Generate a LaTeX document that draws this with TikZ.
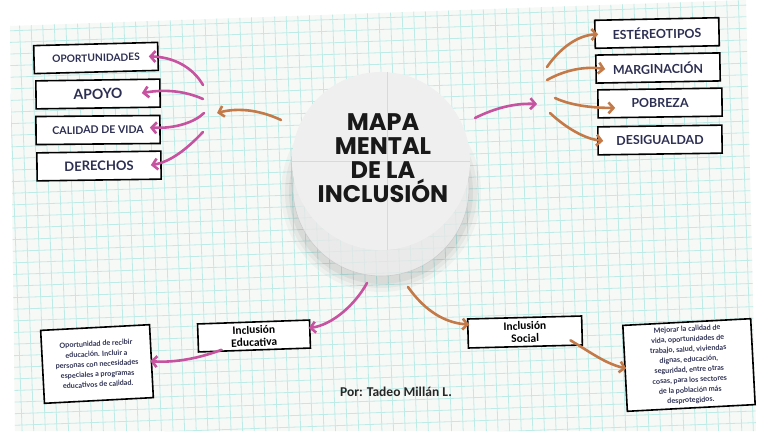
\documentclass[tikz,border=0pt]{standalone}
\usepackage{fontspec}
\usetikzlibrary{arrows.meta,calc}
\newfontfamily\titlefont{Poppins}
\newfontfamily\labelfont{Lato}
\newfontfamily\handfont{Carlito}
\definecolor{paper}{HTML}{F7F9F7}
\definecolor{gridc}{HTML}{BDEBE6}
\definecolor{navy}{HTML}{2C2F52}
\definecolor{mag}{RGB}{198,82,160}
\definecolor{ora}{RGB}{196,122,72}
\definecolor{disc}{HTML}{EFEFEF}
\tikzset{
  box/.style={draw=black, line width=1.6pt, fill=white, minimum width=124pt, minimum height=28pt, inner sep=0pt, text=navy},
  lbl/.style={font=\labelfont\bfseries\fontsize{#1}{#1}\selectfont},
  hand/.style={draw=black, line width=1.6pt, fill=white, inner sep=0pt, align=center, font=\handfont\bfseries\fontsize{11.5}{12.5}\selectfont, text=black},
  para/.style={draw=black, line width=1.6pt, fill=white, inner sep=0pt, align=center, text=navy, font=\labelfont\bfseries\fontsize{7.2}{10.2}\selectfont},
  arr/.style={line width=2.6pt, line cap=round, -{Straight Barb[length=5pt,width=11pt]}},
}
\begin{document}
\begin{tikzpicture}[x=1pt,y=-1pt]
\useasboundingbox (0,0) rectangle (768,431);
\fill[white] (0,0) rectangle (768,431);
% paper
\fill[paper] (10,26) -- (746,0) -- (756,431) -- (15,431) -- cycle;
\begin{scope}
  \clip (10,26) -- (746,0) -- (756,431) -- (15,431) -- cycle;
  \begin{scope}[rotate around={2:(380,215)}]
    \foreach \i in {0,...,78} {
      \draw[gridc, line width=0.8pt] (-20+\i*11.6,-40) -- (-20+\i*11.6,480);
    }
    \foreach \j in {0,...,45} {
      \draw[gridc, line width=0.8pt] (-40,-40+\j*11.6) -- (820,-40+\j*11.6);
    }
  \end{scope}
\end{scope}
% central disc with shadow
\foreach \k/\o in {12/0.03,8/0.04,4/0.05} {
  \fill[black, opacity=\o] (381,192) circle (88+\k);
}
\fill[white!94!black, opacity=0.75] (381,188) circle (88);
\draw[gray!40, line width=0.6pt] (381,188) circle (88);
\node[circle, fill=disc, minimum size=178pt, inner sep=0pt] (c) at (381,161) {};
\draw[gray!30, line width=0.5pt] (c.north) ++(6,0) -- ($(c.south)+(6,0)$);
\draw[gray!30, line width=0.5pt] (c.west) -- (c.east);
\node[align=center, font=\titlefont\bfseries\fontsize{24}{24}\selectfont, text=black!90] (title) at (383,158) {MAPA\\MENTAL\\DE LA\\INCLUSIÓN};
% left boxes
\node[box, rotate=1.5, lbl=10.2] (opo) at (96,58) {OPORTUNIDADES};
\node[box, rotate=0.8, lbl=14] (apo) at (98,94) {APOYO};
\node[box, rotate=0.5, lbl=10.6] (cal) at (98,130) {CALIDAD DE VIDA};
\node[box, rotate=0.8, lbl=13] (der) at (99,166) {DERECHOS};
% right boxes
\node[box, rotate=1.2, lbl=12.4] (est) at (657,33) {ESTÉREOTIPOS};
\node[box, rotate=1.0, lbl=12.4] (mar) at (658,68) {MARGINACIÓN};
\node[box, rotate=0.8, lbl=12.4] (pob) at (660,103) {POBREZA};
\node[box, rotate=0.8, lbl=12.4] (des) at (660,140) {DESIGUALDAD};
% bottom boxes
\node[hand, rotate=2, minimum width=112pt, minimum height=28pt] (edu) at (254,336) {Inclusión\\Educativa};
\node[hand, rotate=1.5, minimum width=114pt, minimum height=29pt] (soc) at (525,332) {Inclusión\\Social};
\node[para, rotate=3, minimum width=109pt, minimum height=73pt] (edtxt) at (97,364) {Oportunidad de recibir\\educación. Incluir a\\personas con necesidades\\especiales a programas\\educativos de calidad.};
\node[para, rotate=3, minimum width=128pt, minimum height=86pt] (sotxt) at (689,365) {Mejorar la calidad de\\vida, oportunidades de\\trabajo, salud, viviendas\\dignas, educación,\\seguridad, entre otras\\cosas, para los sectores\\de la población más\\desprotegidos.};
\node[font=\handfont\bfseries\fontsize{13.5}{13.5}\selectfont, text=black!85] (author) at (396,392) {Por: Tadeo Millán L.};
% coordinates for free ends
\coordinate (lhub1) at (203,85);
\coordinate (lhub2) at (203,99);
\coordinate (lhub3) at (204,113);
\coordinate (lhub4) at (203,132);
\coordinate (lsrc) at (281,120);
\coordinate (ltgt) at (217,113);
\coordinate (rsrc) at (475,118);
\coordinate (rtgt) at (537,104);
\coordinate (rhub1) at (547,67);
\coordinate (rhub2) at (547,80);
\coordinate (rhub3) at (555,98);
\coordinate (rhub4) at (550,113);
\coordinate (bl) at (367,283);
\coordinate (br) at (408,287);
% arrows
\draw[arr, ora] (lsrc) .. controls (262,111) and (240,107) .. (ltgt);
\draw[arr, mag] (lhub1) .. controls (192,66) and (172,57) .. ([xshift=-10pt]opo.east);
\draw[arr, mag] (lhub2) .. controls (185,91) and (165,89) .. ([xshift=-19pt]apo.east);
\draw[arr, mag] (lhub3) .. controls (195,122) and (175,129) .. ([xshift=-11pt,yshift=2pt]cal.east);
\draw[arr, mag] (lhub4) .. controls (186,150) and (170,162) .. ([xshift=-11pt]der.east);
\draw[arr, mag] (rsrc) .. controls (495,108) and (515,103) .. (rtgt);
\draw[arr, ora] (rhub1) .. controls (560,48) and (578,35) .. ([xshift=4pt]est.west);
\draw[arr, ora] (rhub2) .. controls (565,70) and (585,66) .. ([xshift=10pt]mar.west);
\draw[arr, ora] (rhub3) .. controls (572,106) and (595,108) .. ([xshift=18pt,yshift=-4pt]pob.west);
\draw[arr, ora] (rhub4) .. controls (566,128) and (585,139) .. ([xshift=6pt]des.west);
\draw[arr, mag] (bl) .. controls (355,305) and (332,325) .. ([xshift=-2pt,yshift=6pt]edu.east);
\draw[arr, mag] ([xshift=-33pt,yshift=1pt]edu.south) .. controls (200,358) and (175,363) .. ([xshift=-2pt]edtxt.east);
\draw[arr, ora] (br) .. controls (425,311) and (445,323) .. ([xshift=2pt,yshift=9pt]soc.west);
\draw[arr, ora] ([xshift=45pt,yshift=7pt]soc.south) .. controls (590,352) and (606,364) .. ([xshift=2pt]sotxt.west);
\end{tikzpicture}
\end{document}
